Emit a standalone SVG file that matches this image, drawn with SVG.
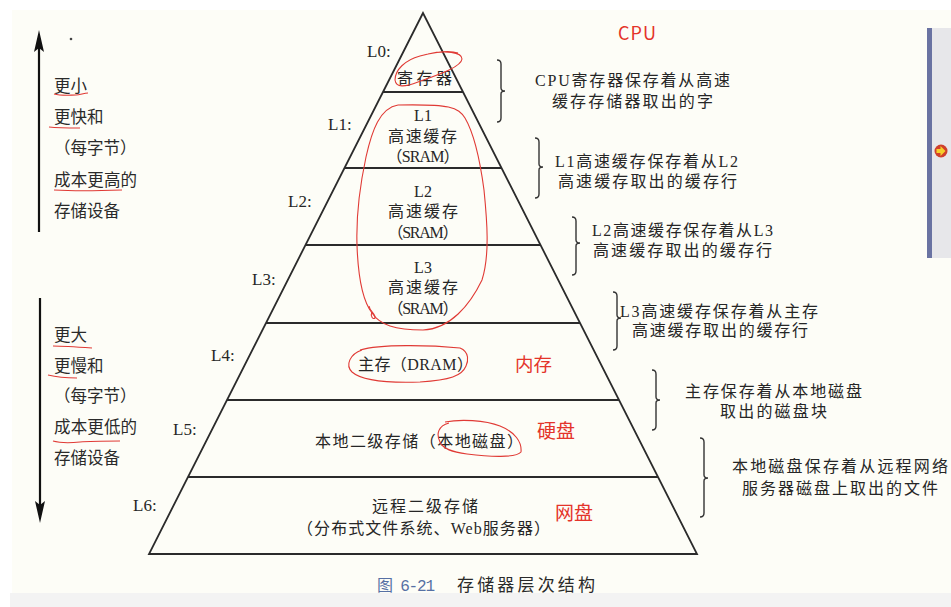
<svg xmlns="http://www.w3.org/2000/svg" width="951" height="607" viewBox="0 0 951 607">
<defs>
<style>
.t{font-family:"Liberation Serif","Noto Sans CJK SC",serif;fill:#262626}
.c{font-family:"Noto Sans CJK SC","Liberation Sans",sans-serif;fill:#2a2a2a}
.lv{font-size:17px}
.nd{font-size:16px;text-anchor:middle}
.rt{font-size:16px}
.lt{font-size:16.5px}
.red{font-family:"Noto Sans CJK SC","Liberation Sans",sans-serif;fill:#e4342a}
.ln{stroke:#2b2b2b;stroke-width:1.8;fill:none}
.br{stroke:#333;stroke-width:1.4;fill:none}
.rs{stroke:#e03a35;stroke-width:1.1;fill:none}
</style>
<marker id="ah" viewBox="0 0 22 10" refX="4" refY="5" markerWidth="22" markerHeight="10" markerUnits="userSpaceOnUse" orient="auto">
<path d="M0,0 L22,5 L0,10 L4,5 Z" fill="#111"/>
</marker>
</defs>
<rect x="0" y="0" width="951" height="607" fill="#ffffff"/>
<rect x="12" y="10" width="939" height="583" fill="#fdfdf7"/>
<rect x="10" y="593" width="941" height="14" fill="#f3f3f3"/>
<circle cx="71" cy="39" r="1.3" fill="#444"/>

<!-- scrollbar widget -->
<g id="sidebar">
<rect x="932" y="28" width="19" height="230" fill="#e7e7ea"/>
<rect x="927" y="28" width="5" height="230" fill="#6a73a2"/>
<circle cx="941" cy="151" r="6.5" fill="#d0402c"/>
<path d="M936.5,149 h4 v-3 l5,5 l-5,5 v-3 h-4 Z" fill="#f6cf2a"/>
</g>

<!-- pyramid outline -->
<g id="pyramid">
<polygon class="ln" points="423,13 149,554 697,554"/>
<line class="ln" x1="383" y1="92" x2="463" y2="92"/>
<line class="ln" x1="345" y1="168" x2="501" y2="168"/>
<line class="ln" x1="306" y1="245" x2="540" y2="245"/>
<line class="ln" x1="266" y1="323" x2="580" y2="323"/>
<line class="ln" x1="227" y1="400" x2="619" y2="400"/>
<line class="ln" x1="188" y1="477" x2="658" y2="477"/>
</g>

<g id="L0">
<text class="t lv" x="367" y="57">L0:</text>
<text class="t nd" x="424.5" y="84" textLength="55">寄存器</text>
</g>
<g id="L1">
<text class="t lv" x="328" y="130">L1:</text>
<text class="t nd lv" x="423" y="121">L1</text>
<text class="t nd" x="422.5" y="142" textLength="69">高速缓存</text>
<text class="t nd lv" x="423" y="162" textLength="73">（SRAM）</text>
</g>
<g id="L2">
<text class="t lv" x="288" y="207">L2:</text>
<text class="t nd lv" x="423" y="197">L2</text>
<text class="t nd" x="423" y="217" textLength="70">高速缓存</text>
<text class="t nd lv" x="423" y="238" textLength="71">（SRAM）</text>
</g>
<g id="L3">
<text class="t lv" x="252" y="285">L3:</text>
<text class="t nd lv" x="423" y="273">L3</text>
<text class="t nd" x="423" y="293" textLength="70">高速缓存</text>
<text class="t nd lv" x="423" y="314" textLength="71">（SRAM）</text>
</g>
<g id="L4">
<text class="t lv" x="211" y="361">L4:</text>
<text class="t nd lv" x="415.5" y="370" textLength="115">主存（DRAM）</text>
</g>
<g id="L5">
<text class="t lv" x="173" y="435">L5:</text>
<text class="t nd" x="419" y="447" textLength="208">本地二级存储（本地磁盘）</text>
</g>
<g id="L6">
<text class="t lv" x="133" y="511">L6:</text>
<text class="t nd" x="425" y="512" textLength="106">远程二级存储</text>
<text class="t nd lv" x="423.5" y="534" textLength="253">（分布式文件系统、Web服务器）</text>
</g>

<!-- right descriptions -->
<g id="desc0">
<text class="t rt" x="535" y="86" textLength="195">CPU寄存器保存着从高速</text>
<text class="t rt" x="552" y="107" textLength="161">缓存存储器取出的字</text>
</g>
<g id="desc1">
<text class="t rt" x="555" y="167" textLength="183">L1高速缓存保存着从L2</text>
<text class="t rt" x="558" y="187" textLength="179">高速缓存取出的缓存行</text>
</g>
<g id="desc2">
<text class="t rt" x="592" y="236" textLength="181">L2高速缓存保存着从L3</text>
<text class="t rt" x="593" y="256" textLength="179">高速缓存取出的缓存行</text>
</g>
<g id="desc3">
<text class="t rt" x="620" y="317" textLength="198">L3高速缓存保存着从主存</text>
<text class="t rt" x="632" y="336" textLength="176">高速缓存取出的缓存行</text>
</g>
<g id="desc4">
<text class="t rt" x="685" y="397" textLength="177">主存保存着从本地磁盘</text>
<text class="t rt" x="720" y="417" textLength="107">取出的磁盘块</text>
</g>
<g id="desc5">
<text class="t rt" x="732" y="472" textLength="216">本地磁盘保存着从远程网络</text>
<text class="t rt" x="742" y="494" textLength="196">服务器磁盘上取出的文件</text>
</g>

<!-- left labels -->
<g id="upper-label">
<text class="c lt" x="54" y="92">更小</text>
<text class="c lt" x="54" y="123">更快和</text>
<text class="c lt" x="54" y="154">（每字节）</text>
<text class="c lt" x="54" y="186" textLength="83">成本更高的</text>
<text class="c lt" x="54" y="217">存储设备</text>
</g>
<g id="lower-label">
<text class="c lt" x="54" y="341">更大</text>
<text class="c lt" x="54" y="372">更慢和</text>
<text class="c lt" x="54" y="402">（每字节）</text>
<text class="c lt" x="54" y="433" textLength="83">成本更低的</text>
<text class="c lt" x="54" y="464">存储设备</text>
</g>

<!-- connectors: arrows and braces -->
<g id="connectors">
<line x1="39" y1="232" x2="39" y2="48" stroke="#111" stroke-width="2.2" marker-end="url(#ah)"/>
<line x1="40" y1="298" x2="40" y2="505" stroke="#111" stroke-width="2.2" marker-end="url(#ah)"/>
<path class="br" d="M497,60 Q501,60 501,64 L501,88 Q501,91 505,91 Q501,91 501,94 L501,118 Q501,122 497,122"/>
<path class="br" d="M535,138 Q539,138 539,142 L539,164 Q539,167 543,167 Q539,167 539,170 L539,194 Q539,198 535,198"/>
<path class="br" d="M572,217 Q576,217 576,221 L576,240 Q576,243 580,243 Q576,243 576,246 L576,271 Q576,275 572,275"/>
<path class="br" d="M613,292 Q617,292 617,296 L617,315 Q617,318 621,318 Q617,318 617,321 L617,346 Q617,350 613,350"/>
<path class="br" d="M652,370 Q656,370 656,374 L656,397 Q656,400 660,400 Q656,400 656,403 L656,426 Q656,430 652,430"/>
<path class="br" d="M700,438 Q704,438 704,442 L704,475 Q704,478 708,478 Q704,478 704,481 L704,513 Q704,517 700,517"/>
</g>

<!-- red annotations -->
<g id="annotations">
<text class="red" x="618" y="40" font-size="18" textLength="38">CPU</text>
<text class="red" x="515" y="371" font-size="18.5">内存</text>
<text class="red" x="537" y="438" font-size="19">硬盘</text>
<text class="red" x="555" y="520" font-size="19">网盘</text>
<path class="rs" d="M428,54 C445,50 462,52 462,59 C461,67 440,74 418,82 C405,87 396,88 395,80 C395,70 405,60 420,56 C435,52 450,50 458,53"/>
<path class="rs" d="M398,105 C380,108 372,130 366,157 C360,185 356,215 357,245 C358,275 362,300 372,313 C380,325 395,330 423,330 C450,329 470,305 482,280 C490,255 487,220 484,190 C480,160 475,135 465,118 C458,107 450,104 398,105"/>
<path class="rs" d="M369,306 C370,312 376,314 375,318 C373,320 370,316 372,312"/>
<path class="rs" d="M360,350 C380,344 430,345 460,348 C470,352 468,362 466,366 C462,376 450,380 420,382 C390,383 362,381 352,372 C345,365 350,354 362,350"/>
<path class="rs" d="M445,422 C460,419 485,420 500,426 C515,432 522,442 521,452 C516,458 490,457 467,454 C452,452 443,449 440,442 C436,434 438,426 449,423"/>
<path class="rs" d="M54,94 C62,96 70,95 76,95 C80,95 84,93 88,93"/>
<path class="rs" d="M49,127 C58,128 70,128 80,128"/>
<path class="rs" d="M54,190 C70,191 95,191 122,190"/>
<path class="rs" d="M53,346 C63,346 78,347 92,348"/>
<path class="rs" d="M48,375 C56,377 66,378 77,378"/>
<path class="rs" d="M53,441 C60,443 70,443 80,442 C90,441 105,441 120,441"/>
</g>

<g id="caption">
<text x="377" y="591" font-family="'Liberation Mono','Noto Sans CJK SC',monospace" font-size="16" fill="#5670a4" textLength="58">图 6-21</text>
<text class="c" x="457" y="591" font-size="17" textLength="138">存储器层次结构</text>
</g>
</svg>
